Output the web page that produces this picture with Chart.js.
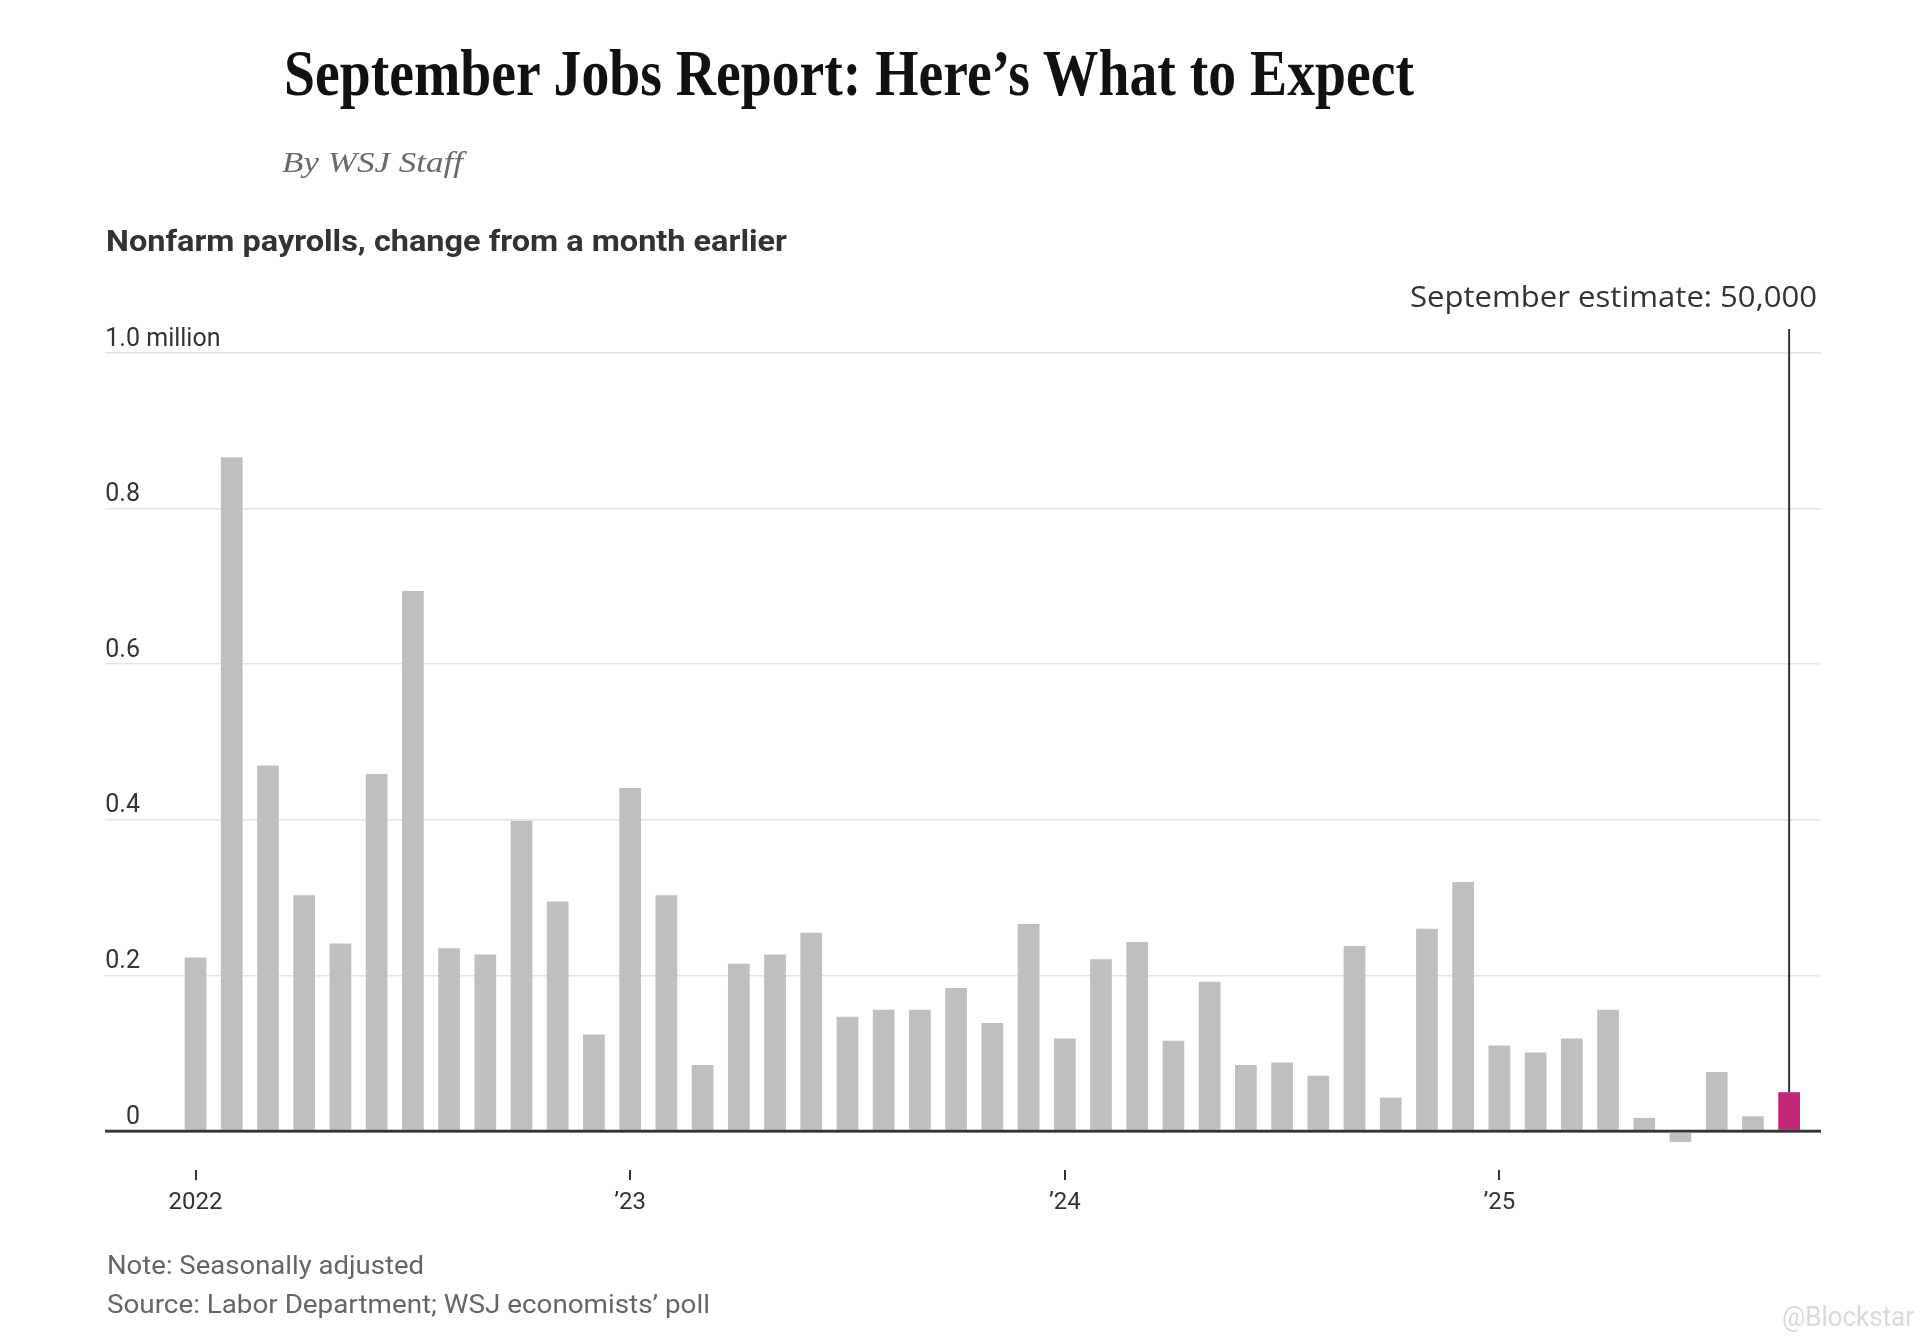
<!DOCTYPE html>
<html>
<head>
<meta charset="utf-8">
<script src="https://cdn.jsdelivr.net/npm/chart.js@4.4.1/dist/chart.umd.min.js"></script>
<style>
  html, body { margin: 0; padding: 0; background: #fff; }
  #wrap { position: relative; width: 1924px; height: 1342px; overflow: hidden; background: #fff; }
  #chart { position: absolute; left: 0; top: 0; width: 1924px; height: 1342px; }
  .t { position: absolute; white-space: nowrap; transform-origin: 0 0; line-height: 1; left: 0; top: 0; }
  #title { font-family: 'Liberation Serif', 'DejaVu Serif', serif; font-weight: 700; font-size: 65px; color: #111; }
  #byline { font-family: 'Liberation Serif', 'DejaVu Serif', serif; font-style: italic; font-size: 30px; color: #6a6a6a; }
  #subtitle { font-family: Roboto, 'Noto Sans', sans-serif; font-weight: 700; font-size: 29px; color: #333; }
  .note { font-family: Roboto, 'Noto Sans', sans-serif; font-size: 25px; color: #666; }
  #wm { font-family: Roboto, 'Noto Sans', sans-serif; font-size: 28px; color: #dadada; }
</style>
</head>
<body>
<div id="wrap">
  <canvas id="chart" width="1924" height="1342"></canvas>
  <div class="t" id="title" data-x="284" data-b="95" data-w="1130">September Jobs Report: Here’s What to Expect</div>
  <div class="t" id="byline" data-x="282" data-b="172" data-w="181">By WSJ Staff</div>
  <div class="t" id="subtitle" data-x="106" data-b="251" data-w="681">Nonfarm payrolls, change from a month earlier</div>
  <div class="t note" id="note1" data-x="107" data-b="1274" data-w="317">Note: Seasonally adjusted</div>
  <div class="t note" id="note2" data-x="107" data-b="1313" data-w="603">Source: Labor Department; WSJ economists’ poll</div>
  <div class="t" id="wm" data-x="1782" data-b="1326" data-w="132">@Blockstar</div>
</div>
<script>
// ---- data ----
const months = [
  '2022-01','2022-02','2022-03','2022-04','2022-05','2022-06','2022-07','2022-08','2022-09','2022-10','2022-11','2022-12',
  '2023-01','2023-02','2023-03','2023-04','2023-05','2023-06','2023-07','2023-08','2023-09','2023-10','2023-11','2023-12',
  '2024-01','2024-02','2024-03','2024-04','2024-05','2024-06','2024-07','2024-08','2024-09','2024-10','2024-11','2024-12',
  '2025-01','2025-02','2025-03','2025-04','2025-05','2025-06','2025-07','2025-08','2025-09'
];
// change from a month earlier, millions of jobs
const payrollChange = [
  0.223, 0.866, 0.470, 0.303, 0.241, 0.459, 0.694, 0.235, 0.227, 0.399, 0.295, 0.124,
  0.441, 0.303, 0.085, 0.215, 0.227, 0.255, 0.147, 0.156, 0.156, 0.184, 0.139, 0.266,
  0.119, 0.221, 0.243, 0.116, 0.192, 0.085, 0.088, 0.071, 0.238, 0.043, 0.260, 0.320,
  0.110, 0.101, 0.119, 0.156, 0.017, -0.014, 0.076, 0.019, 0.050
];
const estimateIndex = 44; // September 2025 estimate
const estimateLabel = 'September estimate: 50,000';
const yTickValues = [0, 0.2, 0.4, 0.6, 0.8, 1.0];
const yTickLabels = ['0', '0.2', '0.4', '0.6', '0.8', '1.0'];
const yTopSuffix = ' million';
const xTickPositions = [0, 12, 24, 36];   // index into months (January of each year)
const xTickLabels = ['2022', '’23', '’24', '’25'];

// ---- styles ----
const GRAY = '#bfbfbf';
const MAGENTA = '#c0287a';
const INK = '#333333';
const GRID = '#e4e4e4';

function placeText() {
  document.querySelectorAll('.t').forEach(el => {
    el.style.transform = 'none';
    const m = document.createElement('span');
    m.style.display = 'inline-block';
    m.style.width = '0';
    m.style.height = '0';
    m.style.verticalAlign = 'baseline';
    el.appendChild(m);
    const off = m.offsetTop;
    el.style.left = el.dataset.x + 'px';
    el.style.top = (parseFloat(el.dataset.b) - off) + 'px';
    const w = el.getBoundingClientRect().width;
    const s = parseFloat(el.dataset.w) / w;
    el.style.transform = 'scaleX(' + s + ')';
  });
}

const overlay = {
  id: 'overlay',
  afterDatasetsDraw(chart) {
    const { ctx, chartArea: a, scales: { x, y } } = chart;
    ctx.save();
    // zero baseline on top of bars
    const y0 = y.getPixelForValue(0);
    ctx.strokeStyle = INK;
    ctx.lineWidth = 2.5;
    ctx.beginPath();
    ctx.moveTo(a.left, y0);
    ctx.lineTo(a.right, y0);
    ctx.stroke();

    // y-axis labels (numbers right-aligned, unit hanging on the top one)
    ctx.font = '25px Roboto';
    ctx.fillStyle = INK;
    ctx.textBaseline = 'alphabetic';
    const lx = a.left + 35;
    yTickValues.forEach((v, i) => {
      const py = y.getPixelForValue(v) - 7.5;
      ctx.textAlign = 'right';
      ctx.fillText(yTickLabels[i], lx, py);
      if (i === yTickValues.length - 1) {
        ctx.textAlign = 'left';
        ctx.fillText(yTopSuffix, lx, py);
      }
    });

    // estimate annotation
    const ex = x.getPixelForValue(estimateIndex);
    const ey = y.getPixelForValue(payrollChange[estimateIndex]);
    ctx.strokeStyle = INK;
    ctx.lineWidth = 2;
    ctx.beginPath();
    ctx.moveTo(ex, a.top - 24);
    ctx.lineTo(ex, ey);
    ctx.stroke();
    ctx.font = '29px "Open Sans"';
    ctx.fillStyle = INK;
    ctx.textAlign = 'left';
    const tw = ctx.measureText(estimateLabel).width;
    const targetW = 407;
    const rightX = a.right - 4;
    ctx.translate(rightX - targetW, a.top - 46);
    ctx.scale(targetW / tw, 1);
    ctx.fillText(estimateLabel, 0, 0);
    ctx.restore();
  }
};

function build() {
  placeText();
  new Chart(document.getElementById('chart'), {
    type: 'bar',
    data: {
      datasets: [{
        label: 'Nonfarm payrolls',
        data: payrollChange.map((v, i) => ({ x: i, y: v })),
        backgroundColor: payrollChange.map((v, i) => i === estimateIndex ? MAGENTA : GRAY),
        borderWidth: 0,
        barPercentage: 0.6,
        categoryPercentage: 1.0
      }]
    },
    options: {
      responsive: false,
      animation: false,
      devicePixelRatio: 1,
      layout: { padding: { left: 105, right: 103, top: 353, bottom: 72 } },
      plugins: { legend: { display: false }, tooltip: { enabled: false } },
      scales: {
        x: {
          type: 'linear',
          offset: false,
          min: -2.5,
          max: 44.88,
          afterBuildTicks: s => { s.ticks = xTickPositions.map(v => ({ value: v })); },
          afterFit: s => { s.height = 100; },
          ticks: {
            callback: (v, i) => xTickLabels[i],
            font: { family: 'Roboto', size: 24 },
            color: INK,
            padding: 9,
            maxRotation: 0,
            autoSkip: false
          },
          grid: { offset: false, drawOnChartArea: false, drawTicks: true, tickLength: 10, color: INK, lineWidth: 2 },
          border: { display: false }
        },
        y: {
          min: -0.05,
          max: 1.0,
          afterBuildTicks: s => { s.ticks = yTickValues.map(v => ({ value: v })); },
          afterFit: s => { s.width = 0; },
          ticks: { display: false },
          grid: {
            drawTicks: false,
            color: c => (c.tick && c.tick.value === 0) ? INK : GRID,
            lineWidth: c => (c.tick && c.tick.value === 0) ? 2.5 : 1.5
          },
          border: { display: false }
        }
      }
    },
    plugins: [overlay]
  });
}

if (document.fonts && document.fonts.ready) {
  document.fonts.ready.then(build);
} else {
  window.addEventListener('load', build);
}
</script>
</body>
</html>
